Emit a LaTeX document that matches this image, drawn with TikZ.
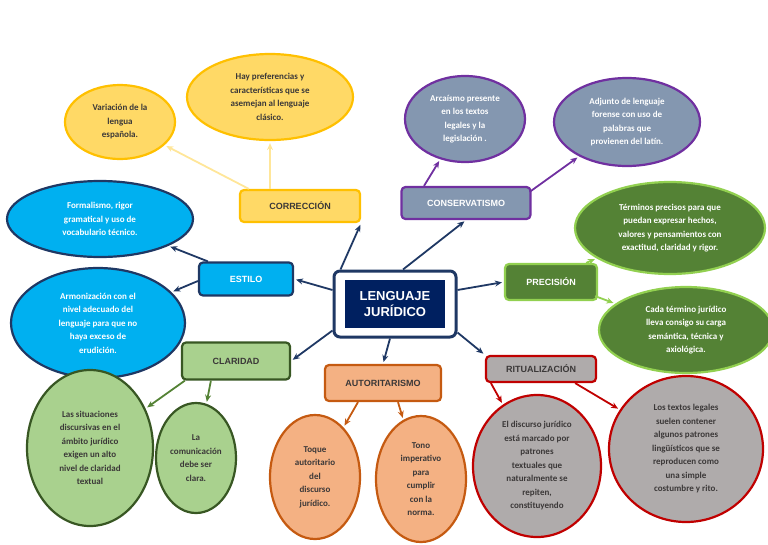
\documentclass[tikz,border=0pt]{standalone}
\usepackage{fontspec}
\setmainfont{Carlito}
\newfontfamily\hfont{Liberation Sans}
\usetikzlibrary{arrows.meta,shapes.geometric}
\definecolor{navy}{HTML}{1F3864}
\definecolor{dnavy}{HTML}{002060}
\definecolor{yfill}{HTML}{FFD966}
\definecolor{ybord}{HTML}{FFC000}
\definecolor{yarr}{HTML}{FFE699}
\definecolor{bfill}{HTML}{00B0F0}
\definecolor{lgfill}{HTML}{A9D18E}
\definecolor{lgbord}{HTML}{385723}
\definecolor{lgarr}{HTML}{548235}
\definecolor{ofill}{HTML}{F4B183}
\definecolor{obord}{HTML}{C55A11}
\definecolor{gfill}{HTML}{AFABAB}
\definecolor{rbord}{HTML}{C00000}
\definecolor{dgfill}{HTML}{548235}
\definecolor{dgbord}{HTML}{92D050}
\definecolor{pfill}{HTML}{8497B0}
\definecolor{pbord}{HTML}{7030A0}
\definecolor{txt}{HTML}{3B3838}
\begin{document}
\begin{tikzpicture}[x=1pt,y=-1pt,
 cat/.style={draw,line width=2.2pt,rounded corners=4pt,minimum height=32pt,font=\hfont\bfseries\fontsize{9}{10}\selectfont,anchor=center},
 ell/.style={ellipse,draw,line width=2.2pt,font=\bfseries\fontsize{9}{13.5}\selectfont,align=center,inner sep=0pt},
 arr/.style={-{Stealth[length=7pt,width=6pt]},line width=1.8pt,shorten >=2pt}]
\useasboundingbox (0,0) rectangle (768,544);
% center
\node[draw=navy,line width=3pt,fill=white,rounded corners=6pt,minimum width=122pt,minimum height=66pt] (c) at (395,304) {};
\node[fill=dnavy,minimum width=100pt,minimum height=48pt,text=white,font=\hfont\bfseries\fontsize{13}{16}\selectfont,align=center] (ct) at (395,304) {LENGUAJE\\JURÍDICO};
% categories
\node[cat,fill=yfill,draw=ybord,minimum width=120pt,text=txt] (cor) at (300,206) {CORRECCIÓN};
\node[cat,fill=bfill,draw=navy,minimum width=94pt,minimum height=33pt,text=white] (est) at (246,279) {ESTILO};
\node[cat,fill=lgfill,draw=lgbord,minimum width=108pt,minimum height=37pt,text=txt] (cla) at (236,361) {CLARIDAD};
\node[cat,fill=ofill,draw=obord,minimum width=116pt,minimum height=36pt,text=txt] (aut) at (383,383) {AUTORITARISMO};
\node[cat,fill=gfill,draw=rbord,minimum width=110pt,minimum height=26pt,text=txt] (rit) at (541,369) {RITUALIZACIÓN};
\node[cat,fill=dgfill,draw=dgbord,minimum width=92pt,minimum height=36pt,text=white] (pre) at (551,282) {PRECISIÓN};
\node[cat,fill=pfill,draw=pbord,minimum width=129pt,text=white] (con) at (466,203) {CONSERVATISMO};
% ellipses
\node[ell,fill=yfill,draw=ybord,minimum width=110pt,minimum height=74pt,text=txt] (e1) at (120,122) {Variación de la\\lengua\\española.};
\node[ell,fill=yfill,draw=ybord,minimum width=166pt,minimum height=86pt,text=txt] (e2) at (270,97) {Hay preferencias y\\características que se\\asemejan al lenguaje\\clásico.};
\node[ell,fill=bfill,draw=navy,minimum width=186pt,minimum height=76pt,text=white] (e3) at (100,219) {Formalismo, rigor\\gramatical y uso de\\vocabulario técnico.};
\node[ell,fill=bfill,draw=navy,minimum width=174pt,minimum height=110pt,text=white] (e4) at (98,323) {Armonización con el\\nivel adecuado del\\lenguaje para que no\\haya exceso de\\erudición.};
\node[ell,fill=pfill,draw=pbord,minimum width=120pt,minimum height=86pt,text=white] (e5) at (465,119) {Arcaísmo presente\\en los textos\\legales y la\\legislación .};
\node[ell,fill=pfill,draw=pbord,minimum width=146pt,minimum height=88pt,text=white] (e6) at (627,122) {Adjunto de lenguaje\\forense con uso de\\palabras que\\provienen del latín.};
\node[ell,fill=dgfill,draw=dgbord,minimum width=190pt,minimum height=92pt,text=white] (e7) at (670,228) {Términos precisos para que\\puedan expresar hechos,\\valores y pensamientos con\\exactitud, claridad y rigor.};
\node[ell,fill=dgfill,draw=dgbord,minimum width=174pt,minimum height=86pt,text=white] (e8) at (686,330) {Cada término jurídico\\lleva consigo su carga\\semántica, técnica y\\axiológica.};
\node[ell,fill=lgfill,draw=lgbord,minimum width=126pt,minimum height=156pt,text=txt] (e9) at (90,448) {Las situaciones\\discursivas en el\\ámbito jurídico\\exigen un alto\\nivel de claridad\\textual};
\node[ell,fill=lgfill,draw=lgbord,minimum width=80pt,minimum height=110pt,text=txt] (e10) at (196,458) {La\\comunicación\\debe ser\\clara.};
\node[ell,fill=ofill,draw=obord,minimum width=90pt,minimum height=124pt,text=txt] (e11) at (315,477) {Toque\\autoritario\\del\\discurso\\jurídico.};
\node[ell,fill=ofill,draw=obord,minimum width=90pt,minimum height=126pt,text=txt] (e12) at (421,479) {Tono\\imperativo\\para\\cumplir\\con la\\norma.};
\node[ell,fill=gfill,draw=rbord,minimum width=128pt,minimum height=142pt,text=txt] (e13) at (537,466) {El discurso jurídico\\está marcado por\\patrones\\textuales que\\naturalmente se\\repiten,\\constituyendo};
\node[ell,fill=gfill,draw=rbord,minimum width=154pt,minimum height=146pt,text=txt] (e14) at (686,449) {Los textos legales\\suelen contener\\algunos patrones\\lingüísticos que se\\reproducen como\\una simple\\costumbre y rito.};
% arrows from center
\draw[arr,navy] (c.north west) ++(8,0) -- (cor.south east);
\draw[arr,navy] (c.west) ++(0,-14) -- (est.east);
\draw[arr,navy] (c.south west) ++(0,-8) -- (cla.east);
\draw[arr,navy] (c.south) ++(-5,0) -- (aut.north);
\draw[arr,navy] (c.south east) ++(0,-6) -- (rit.north west);
\draw[arr,navy] (c.east) ++(0,-14) -- (pre.west);
\draw[arr,navy] (c.north) ++(8,0) -- (con.south);
% category to ellipses
\draw[arr,yarr] (cor.north west) ++(10,0) -- (e1);
\draw[arr,yarr] (cor.north) ++(-30,0) -- (e2);
\draw[arr,navy] (est.north west) ++(10,0) -- (e3);
\draw[arr,navy] (est.west) ++(0,2) -- (e4);
\draw[arr,pbord] (con.north) ++(-42,0) -- (e5);
\draw[arr,pbord] (con.north east) ++(-2,6) -- (e6);
\draw[arr,dgbord] (pre.north east) ++(-12,0) -- (e7);
\draw[arr,dgbord] (pre.south east) ++(-3,-5) -- (e8);
\draw[arr,lgarr] (cla.south west) ++(4,0) -- (e9);
\draw[arr,lgarr] (cla.south west) ++(30,0) -- (e10);
\draw[arr,obord] (aut.south) ++(-25,0) -- (e11);
\draw[arr,obord] (aut.south) ++(15,0) -- (e12);
\draw[arr,rbord] (rit.south west) ++(6,0) -- (e13);
\draw[arr,rbord] (rit.south east) ++(-22,0) -- (e14);
\end{tikzpicture}
\end{document}
